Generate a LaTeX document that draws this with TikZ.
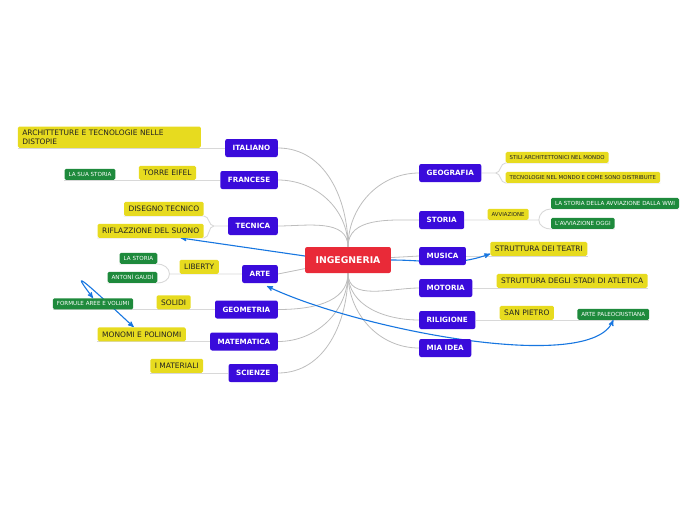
\documentclass[tikz,border=0pt]{standalone}
\usepackage{fontspec}
\setmainfont{DejaVu Sans}
\usepackage{tikz}
\usetikzlibrary{arrows,positioning,backgrounds}

\definecolor{rootred}{HTML}{E92A38}
\definecolor{topicblue}{HTML}{3A0BDB}
\definecolor{subyellow}{HTML}{E7DB1F}
\definecolor{leafgreen}{HTML}{1E8A3C}
\definecolor{branchgrey}{HTML}{BDBDBD}
\definecolor{undergrey}{HTML}{D8D8D8}
\definecolor{relblue}{HTML}{1776E0}
\definecolor{subtext}{HTML}{222222}

\tikzset{
  root/.style={fill=rootred, text=white, font=\fontsize{9.3}{11}\selectfont\bfseries,
    rounded corners=2pt, minimum height=26pt, inner xsep=10.5pt, inner ysep=0pt},
  topic/.style={fill=topicblue, text=white, font=\fontsize{7.2}{8}\selectfont\bfseries,
    rounded corners=2pt, minimum height=18pt, inner xsep=7.5pt, inner ysep=0pt},
  sub/.style={fill=subyellow, text=subtext, font=\fontsize{7.5}{9}\selectfont,
    rounded corners=1.5pt, minimum height=14pt, inner xsep=4.5pt, inner ysep=0pt},
  subsmall/.style={sub, font=\fontsize{5.4}{6}\selectfont, minimum height=11pt, inner xsep=4pt},
  leaf/.style={fill=leafgreen, text=white, font=\fontsize{5.6}{6}\selectfont,
    rounded corners=1.5pt, minimum height=11pt, inner xsep=4pt, inner ysep=0pt},
  branch/.style={color=branchgrey, line width=0.8pt},
  under/.style={color=undergrey, line width=0.9pt},
  relation/.style={color=relblue, line width=1.1pt},
}

\begin{document}
\begin{tikzpicture}[x=1pt,y=-1pt,>=stealth']
  \useasboundingbox (0,0) rectangle (697,520);

  \node[root] (ingegneria) at (348,260) {INGEGNERIA};

  % left topics
  \node[topic,anchor=east] (italiano)   at (278,148) {ITALIANO};
  \node[topic,anchor=east] (francese)   at (278,180) {FRANCESE};
  \node[topic,anchor=east] (tecnica)    at (278,226) {TECNICA};
  \node[topic,anchor=east] (arte)       at (278,274) {ARTE};
  \node[topic,anchor=east] (geometria)  at (278,309.5) {GEOMETRIA};
  \node[topic,anchor=east] (matematica) at (278,341.5) {MATEMATICA};
  \node[topic,anchor=east] (scienze)    at (278,373) {SCIENZE};

  % right topics
  \node[topic,anchor=west] (geografia)  at (419,173) {GEOGRAFIA};
  \node[topic,anchor=west] (storia)     at (419,220) {STORIA};
  \node[topic,anchor=west] (musica)     at (419,256) {MUSICA};
  \node[topic,anchor=west] (motoria)    at (419,288) {MOTORIA};
  \node[topic,anchor=west] (riligione)  at (419,320) {RILIGIONE};
  \node[topic,anchor=west] (miaidea)    at (419,348) {MIA IDEA};

  % left subtopics
  \node[sub, text width=174pt, align=left, inner ysep=3.3pt,
        above left=0pt and 24pt of italiano.west] (architetture)
        {ARCHITTETURE E TECNOLOGIE NELLE DISTOPIE};
  \node[sub,  above left=0pt and 24pt of francese.west]    (torre)  {TORRE EIFEL};
  \node[leaf, above left=0pt and 23pt of torre.south west] (suastoria) {LA SUA STORIA};
  \node[sub,  above left=10pt and 24pt of tecnica.west]    (disegno) {DISEGNO TECNICO};
  \node[sub,  below left=12pt and 24pt of tecnica.west, anchor=south east] (riflazzione) {RIFLAZZIONE DEL SUONO};
  \node[sub,  above left=0pt and 23pt of arte.west]        (liberty) {LIBERTY};
  \node[leaf, above left=10pt and 22pt of liberty.south west] (artestoria) {LA STORIA};
  \node[leaf, below left=9pt and 22pt of liberty.south west, anchor=south east] (gaudi) {ANTONÍ GAUDÍ};
  \node[sub,  above left=0pt and 24pt of geometria.west]   (solidi) {SOLIDI};
  \node[leaf, above left=0pt and 23pt of solidi.south west] (formule) {FORMULE AREE E VOLUMI};
  \node[sub,  above left=0pt and 24pt of matematica.west]  (monomi) {MONOMI E POLINOMI};
  \node[sub,  above left=0pt and 25pt of scienze.west]     (materiali) {I MATERIALI};

  % right subtopics
  \node[subsmall, above right=10pt and 24pt of geografia.east] (stili) {STILI ARCHITETTONICI NEL MONDO};
  \node[subsmall, below right=10pt and 24pt of geografia.east, anchor=south west] (tecnologie) {TECNOLOGIE NEL MONDO E COME SONO DISTRIBUITE};
  \node[subsmall, above right=0pt and 23pt of storia.east] (avviazione) {AVVIAZIONE};
  \node[leaf, above right=11pt and 22pt of avviazione.south east] (wwi) {LA STORIA DELLA AVVIAZIONE DALLA WWI};
  \node[leaf, below right=9pt and 22pt of avviazione.south east, anchor=south west] (oggi) {L'AVVIAZIONE OGGI};
  \node[sub,  above right=0pt and 24pt of musica.east]    (teatri) {STRUTTURA DEI TEATRI};
  \node[sub,  above right=0pt and 24pt of motoria.east]   (stadi) {STRUTTURA DEGLI STADI DI ATLETICA};
  \node[sub,  above right=0pt and 24pt of riligione.east] (sanpietro) {SAN PIETRO};
  \node[leaf, above right=0pt and 23pt of sanpietro.south east] (paleo) {ARTE PALEOCRISTIANA};

  \coordinate (tecnicafork) at ([xshift=-14pt]tecnica.west);
  \coordinate (artefork)    at ([xshift=-10pt]liberty.south west);
  \coordinate (geofork)     at ([xshift=14pt]geografia.east);
  \coordinate (storiafork)  at ([xshift=10pt]avviazione.south east);

  \begin{pgfonlayer}{background}
  \path[branch]
    (ingegneria) edge[out=90,in=0]    (italiano.east)
                 edge[out=90,in=0]    (francese.east)
                 edge[out=90,in=0]    (tecnica.east)
                 edge                 (arte.east)
                 edge[out=-90,in=0]   (geometria.east)
                 edge[out=-90,in=0]   (matematica.east)
                 edge[out=-90,in=0]   (scienze.east)
                 edge[out=90,in=180]  (geografia.west)
                 edge[out=90,in=180]  (storia.west)
                 edge                 (musica.west)
                 edge[out=-90,in=180] (motoria.west)
                 edge[out=-90,in=180] (riligione.west)
                 edge[out=-90,in=180] (miaidea.west);

  \draw[under] (italiano.west) -- (architetture.south west);
  \draw[under] (francese.west) -- (suastoria.south west);
  \draw[under] (tecnica.west) -- (tecnicafork)
               (disegno.south west) -- (disegno.south east) to[out=0,in=180] (tecnicafork)
               to[out=180,in=0] (riflazzione.south east) -- (riflazzione.south west);
  \draw[under] (arte.west) -- (liberty.south west) -- (artefork)
               (artestoria.south west) -- (artestoria.south east) to[out=0,in=90] (artefork)
               to[out=-90,in=0] (gaudi.south east) -- (gaudi.south west);
  \draw[under] (geometria.west) -- (formule.south west);
  \draw[under] (matematica.west) -- (monomi.south west);
  \draw[under] (scienze.west) -- (materiali.south west);

  \draw[under] (geografia.east) -- (geofork)
               (stili.south east) -- (stili.south west) to[out=180,in=0] (geofork)
               to[out=0,in=180] (tecnologie.south west) -- (tecnologie.south east);
  \draw[under] (storia.east) -- (avviazione.south east) -- (storiafork)
               (wwi.south east) -- (wwi.south west) to[out=180,in=90] (storiafork)
               to[out=-90,in=180] (oggi.south west) -- (oggi.south east);
  \draw[under] (musica.east) -- (teatri.south east);
  \draw[under] (motoria.east) -- (stadi.south east);
  \draw[under] (riligione.east) -- (paleo.south east);

  % relations
  \draw[relation,->] ([yshift=4pt]ingegneria.west) -- ([xshift=30pt]riflazzione.south);
  \draw[relation,->] (ingegneria.east) to[out=0,in=200] ([yshift=-5pt]teatri.west);
  \draw[relation,<->] ([xshift=7pt,yshift=-3pt]arte.south)
        .. controls +(93pt,-44pt) and +(-23pt,-54pt) .. (paleo.south);
  \draw[relation,<->] (formule.north)
        .. controls +(-19.5pt,26pt) and +(-59pt,55pt) .. ([xshift=-8pt]monomi.north);
  \end{pgfonlayer}
\end{tikzpicture}
\end{document}
